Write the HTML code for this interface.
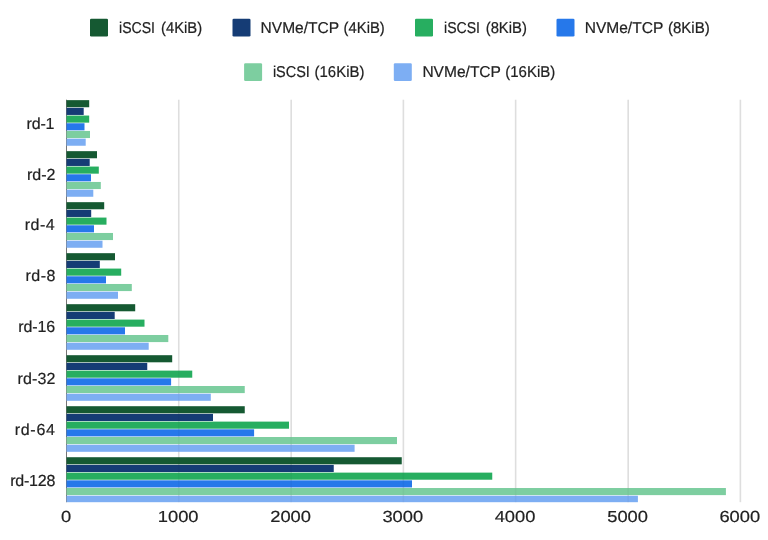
<!DOCTYPE html>
<html lang="en"><head><meta charset="utf-8"><title>iSCSI vs NVMe/TCP</title>
<style>
html,body{margin:0;padding:0;background:#fff;}
body{width:768px;height:540px;overflow:hidden;}
svg{display:block;}
text{font-family:"Liberation Sans",sans-serif;fill:#222;stroke:#222;stroke-width:0.2px;text-rendering:geometricPrecision;}
</style></head><body>
<svg width="768" height="540" viewBox="0 0 768 540">
<rect width="768" height="540" fill="#fff"/>
<rect x="177.93" y="99.7" width="1.62" height="402.5" fill="#e6e6e6"/>
<rect x="290.38" y="99.7" width="1.62" height="402.5" fill="#e6e6e6"/>
<rect x="402.58" y="99.7" width="1.62" height="402.5" fill="#e6e6e6"/>
<rect x="514.83" y="99.7" width="1.62" height="402.5" fill="#e6e6e6"/>
<rect x="627.38" y="99.7" width="1.62" height="402.5" fill="#e6e6e6"/>
<rect x="739.58" y="99.7" width="1.62" height="402.5" fill="#e6e6e6"/>
<rect x="66" y="99.7" width="1" height="402.5" fill="#757575"/>
<rect x="66.5" y="100.15" width="22.70" height="7.10" fill="#155932"/>
<rect x="66.5" y="107.85" width="17.20" height="7.10" fill="#153C75"/>
<rect x="66.5" y="115.55" width="22.70" height="7.10" fill="#27AE60"/>
<rect x="66.5" y="123.25" width="18.00" height="7.10" fill="#2678EA"/>
<rect x="66.5" y="130.95" width="23.50" height="7.10" fill="#7DCEA0"/>
<rect x="66.5" y="138.65" width="19.20" height="7.10" fill="#7DAEF3"/>
<rect x="66.5" y="151.16" width="30.50" height="7.10" fill="#155932"/>
<rect x="66.5" y="158.86" width="23.20" height="7.10" fill="#153C75"/>
<rect x="66.5" y="166.56" width="32.30" height="7.10" fill="#27AE60"/>
<rect x="66.5" y="174.26" width="24.50" height="7.10" fill="#2678EA"/>
<rect x="66.5" y="181.96" width="34.30" height="7.10" fill="#7DCEA0"/>
<rect x="66.5" y="189.66" width="26.80" height="7.10" fill="#7DAEF3"/>
<rect x="66.5" y="202.17" width="37.70" height="7.10" fill="#155932"/>
<rect x="66.5" y="209.87" width="24.70" height="7.10" fill="#153C75"/>
<rect x="66.5" y="217.57" width="40.00" height="7.10" fill="#27AE60"/>
<rect x="66.5" y="225.27" width="27.50" height="7.10" fill="#2678EA"/>
<rect x="66.5" y="232.97" width="46.50" height="7.10" fill="#7DCEA0"/>
<rect x="66.5" y="240.67" width="36.00" height="7.10" fill="#7DAEF3"/>
<rect x="66.5" y="253.18" width="48.50" height="7.10" fill="#155932"/>
<rect x="66.5" y="260.88" width="33.30" height="7.10" fill="#153C75"/>
<rect x="66.5" y="268.58" width="54.70" height="7.10" fill="#27AE60"/>
<rect x="66.5" y="276.28" width="39.50" height="7.10" fill="#2678EA"/>
<rect x="66.5" y="283.98" width="65.30" height="7.10" fill="#7DCEA0"/>
<rect x="66.5" y="291.68" width="51.50" height="7.10" fill="#7DAEF3"/>
<rect x="66.5" y="304.19" width="68.70" height="7.10" fill="#155932"/>
<rect x="66.5" y="311.89" width="48.20" height="7.10" fill="#153C75"/>
<rect x="66.5" y="319.59" width="78.00" height="7.10" fill="#27AE60"/>
<rect x="66.5" y="327.29" width="58.50" height="7.10" fill="#2678EA"/>
<rect x="66.5" y="334.99" width="101.80" height="7.10" fill="#7DCEA0"/>
<rect x="66.5" y="342.69" width="82.20" height="7.10" fill="#7DAEF3"/>
<rect x="66.5" y="355.20" width="105.70" height="7.10" fill="#155932"/>
<rect x="66.5" y="362.90" width="80.75" height="7.10" fill="#153C75"/>
<rect x="66.5" y="370.60" width="125.75" height="7.10" fill="#27AE60"/>
<rect x="66.5" y="378.30" width="104.60" height="7.10" fill="#2678EA"/>
<rect x="66.5" y="386.00" width="178.25" height="7.10" fill="#7DCEA0"/>
<rect x="66.5" y="393.70" width="144.30" height="7.10" fill="#7DAEF3"/>
<rect x="66.5" y="406.21" width="178.25" height="7.10" fill="#155932"/>
<rect x="66.5" y="413.91" width="146.50" height="7.10" fill="#153C75"/>
<rect x="66.5" y="421.61" width="222.50" height="7.10" fill="#27AE60"/>
<rect x="66.5" y="429.31" width="187.60" height="7.10" fill="#2678EA"/>
<rect x="66.5" y="437.01" width="330.50" height="7.10" fill="#7DCEA0"/>
<rect x="66.5" y="444.71" width="288.10" height="7.10" fill="#7DAEF3"/>
<rect x="66.5" y="457.22" width="335.25" height="7.10" fill="#155932"/>
<rect x="66.5" y="464.92" width="267.25" height="7.10" fill="#153C75"/>
<rect x="66.5" y="472.62" width="425.75" height="7.10" fill="#27AE60"/>
<rect x="66.5" y="480.32" width="345.50" height="7.10" fill="#2678EA"/>
<rect x="66.5" y="488.02" width="659.40" height="7.10" fill="#7DCEA0"/>
<rect x="66.5" y="495.72" width="571.40" height="6.48" fill="#7DAEF3"/>
<rect x="177.93" y="99.7" width="1.62" height="402.5" fill="#000" fill-opacity="0.03"/>
<rect x="290.38" y="99.7" width="1.62" height="402.5" fill="#000" fill-opacity="0.03"/>
<rect x="402.58" y="99.7" width="1.62" height="402.5" fill="#000" fill-opacity="0.03"/>
<rect x="514.83" y="99.7" width="1.62" height="402.5" fill="#000" fill-opacity="0.03"/>
<rect x="627.38" y="99.7" width="1.62" height="402.5" fill="#000" fill-opacity="0.03"/>
<rect x="739.58" y="99.7" width="1.62" height="402.5" fill="#000" fill-opacity="0.03"/>
<text x="26.60" y="129" font-size="16" textLength="27.8" lengthAdjust="spacing">rd-1</text>
<text x="26.90" y="180" font-size="16" textLength="28.5" lengthAdjust="spacing">rd-2</text>
<text x="24.70" y="230" font-size="16" textLength="29.9" lengthAdjust="spacing">rd-4</text>
<text x="25.50" y="281" font-size="16" textLength="29.9" lengthAdjust="spacing">rd-8</text>
<text x="18.15" y="332" font-size="16" textLength="37.0" lengthAdjust="spacing">rd-16</text>
<text x="17.40" y="384" font-size="16" textLength="38.0" lengthAdjust="spacing">rd-32</text>
<text x="14.70" y="435" font-size="16" textLength="40.2" lengthAdjust="spacing">rd-64</text>
<text x="10.20" y="486" font-size="16" textLength="45.2" lengthAdjust="spacing">rd-128</text>
<text transform="translate(66.00,522) scale(1.145,1)" x="0" y="0" font-size="16" text-anchor="middle">0</text>
<text transform="translate(178.15,522) scale(1.145,1)" x="0" y="0" font-size="16" text-anchor="middle">1000</text>
<text transform="translate(290.60,522) scale(1.145,1)" x="0" y="0" font-size="16" text-anchor="middle">2000</text>
<text transform="translate(402.80,522) scale(1.145,1)" x="0" y="0" font-size="16" text-anchor="middle">3000</text>
<text transform="translate(515.05,522) scale(1.145,1)" x="0" y="0" font-size="16" text-anchor="middle">4000</text>
<text transform="translate(627.60,522) scale(1.145,1)" x="0" y="0" font-size="16" text-anchor="middle">5000</text>
<text transform="translate(739.80,522) scale(1.145,1)" x="0" y="0" font-size="16" text-anchor="middle">6000</text>
<rect x="90.00" y="18.7" width="18" height="17.9" rx="1.3" fill="#155932"/>
<text y="33" font-size="15.7"><tspan x="119.0" textLength="36.0" lengthAdjust="spacingAndGlyphs">iSCSI</tspan> <tspan x="161.0" textLength="41.2" lengthAdjust="spacingAndGlyphs">(4KiB)</tspan></text>
<rect x="232.50" y="18.7" width="18" height="17.9" rx="1.3" fill="#153C75"/>
<text y="33" font-size="15.7"><tspan x="260.6" textLength="78.3" lengthAdjust="spacingAndGlyphs">NVMe/TCP</tspan> <tspan x="343.6" textLength="41.2" lengthAdjust="spacingAndGlyphs">(4KiB)</tspan></text>
<rect x="415.00" y="18.7" width="18" height="17.9" rx="1.3" fill="#27AE60"/>
<text y="33" font-size="15.7"><tspan x="444.0" textLength="36.0" lengthAdjust="spacingAndGlyphs">iSCSI</tspan> <tspan x="485.7" textLength="41.2" lengthAdjust="spacingAndGlyphs">(8KiB)</tspan></text>
<rect x="556.50" y="18.7" width="18" height="17.9" rx="1.3" fill="#2678EA"/>
<text y="33" font-size="15.7"><tspan x="584.7" textLength="78.3" lengthAdjust="spacingAndGlyphs">NVMe/TCP</tspan> <tspan x="667.9" textLength="41.9" lengthAdjust="spacingAndGlyphs">(8KiB)</tspan></text>
<rect x="244.10" y="63.2" width="18" height="17.9" rx="1.3" fill="#7DCEA0"/>
<text y="77" font-size="15.7"><tspan x="272.9" textLength="37.0" lengthAdjust="spacingAndGlyphs">iSCSI</tspan> <tspan x="314.6" textLength="49.8" lengthAdjust="spacingAndGlyphs">(16KiB)</tspan></text>
<rect x="393.80" y="63.2" width="18" height="17.9" rx="1.3" fill="#7DAEF3"/>
<text y="77" font-size="15.7"><tspan x="422.4" textLength="78.3" lengthAdjust="spacingAndGlyphs">NVMe/TCP</tspan> <tspan x="505.2" textLength="50.1" lengthAdjust="spacingAndGlyphs">(16KiB)</tspan></text>
</svg></body></html>
